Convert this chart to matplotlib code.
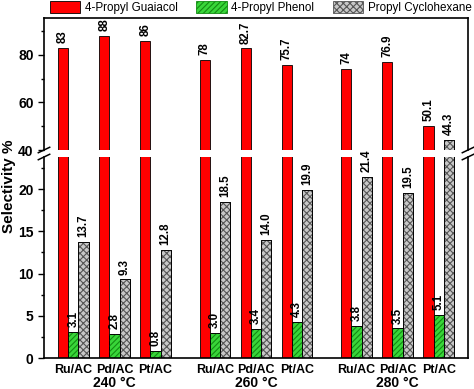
import numpy as np
import matplotlib
matplotlib.use('Agg')
import matplotlib.pyplot as plt
from matplotlib.patches import Patch

plt.rcParams['font.family'] = ['Liberation Sans', 'DejaVu Sans']
plt.rcParams['hatch.linewidth'] = 0.8

# datos
catalizadores = ['Ru/AC', 'Pd/AC', 'Pt/AC'] * 3
temperaturas = ['240 °C', '260 °C', '280 °C']
guaiacol = [83, 88, 86, 78, 82.7, 75.7, 74, 76.9, 50.1]
fenol = [3.1, 2.8, 0.8, 3.0, 3.4, 4.3, 3.8, 3.5, 5.1]
ciclohexano = [13.7, 9.3, 12.8, 18.5, 14.0, 19.9, 21.4, 19.5, 44.3]
etiq_guaiacol = ['83', '88', '86', '78', '82.7', '75.7', '74', '76.9', '50.1']
etiq_fenol = ['3.1', '2.8', '0.8', '3.0', '3.4', '4.3', '3.8', '3.5', '5.1']
etiq_ciclo = ['13.7', '9.3', '12.8', '18.5', '14.0', '19.9', '21.4', '19.5', '44.3']

# posiciones de los grupos
sep = 3.45
x = np.array([g * sep + i for g in range(3) for i in range(3)])
w = 0.25

fig = plt.figure(figsize=(4.74, 3.89), dpi=100)
izq, der = 44 / 474, 468 / 474
ax_sup = fig.add_axes([izq, 1 - 150 / 389, der - izq, (150 - 18) / 389])
ax_inf = fig.add_axes([izq, 1 - 358 / 389, der - izq, (358 - 157) / 389])

lim_inf = (0, 23.8)
lim_sup = (40, 95.5)

series = [
    (guaiacol, etiq_guaiacol, 0.0, '#ff0000', None, 'black'),
    (fenol, etiq_fenol, w, '#39d639', '//////', '#138a13'),
    (ciclohexano, etiq_ciclo, 2 * w, '#c8c8c8', 'xxxxx', '#555555'),
]

for ax in (ax_sup, ax_inf):
    for vals, etq, off, color, hatch, hc in series:
        ax.bar(x + off, vals, w, align='edge', color=color, edgecolor='black', linewidth=0.6)
        if hatch:
            ax.bar(x + off, vals, w, align='edge', color='none', edgecolor=hc,
                   hatch=hatch, linewidth=0)
            ax.bar(x + off, vals, w, align='edge', color='none', edgecolor='black', linewidth=0.6)

# etiquetas de valores
for vals, etq, off, color, hatch, hc in series:
    for xi, v, t in zip(x + off, vals, etq):
        ax = ax_sup if v > lim_inf[1] else ax_inf
        ax.annotate(t, (xi + w / 2, v), xytext=(0, 3.5), textcoords='offset points',
                    rotation=90, ha='center', va='bottom', fontsize=8.3, fontweight='bold')

xmin, xmax = -0.34, x[-1] + 3 * w + 0.34
ax_sup.set_xlim(xmin, xmax)
ax_inf.set_xlim(xmin, xmax)
ax_sup.set_ylim(*lim_sup)
ax_inf.set_ylim(*lim_inf)

ax_sup.set_yticks([40, 60, 80])
ax_sup.set_yticks([50, 70, 90], minor=True)
ax_inf.set_yticks([0, 5, 10, 15, 20])
ax_inf.set_yticks([2.5, 7.5, 12.5, 17.5, 22.5], minor=True)

ax_sup.spines['bottom'].set_visible(False)
ax_inf.spines['top'].set_visible(False)
ax_sup.set_xticks([])
ax_inf.set_xticks(x + 1.5 * w)
ax_inf.set_xticklabels(catalizadores, fontsize=9, fontweight='bold')

for ax in (ax_sup, ax_inf):
    ax.tick_params(axis='y', direction='out', labelsize=10, length=4, width=1)
    ax.tick_params(axis='y', which='minor', direction='out', length=2.5, width=1)
    ax.tick_params(axis='x', length=0, pad=4)
    for s in ax.spines.values():
        s.set_linewidth(1.2)
    for lab in ax.get_yticklabels():
        lab.set_fontweight('bold')
    ax.patch.set_alpha(0)

# marcas de corte
for xf in (izq, der):
    for yf in (1 - 150 / 389, 1 - 157 / 389):
        fig.add_artist(plt.Line2D([xf - 0.012, xf + 0.012], [yf - 0.007, yf + 0.007],
                                  color='black', lw=1.1))

# temperaturas
for g, t in enumerate(temperaturas):
    ax_inf.text(g * sep + 1 + 1.5 * w, -0.09, t, transform=ax_inf.get_xaxis_transform(),
                ha='center', va='top', fontsize=10, fontweight='bold')

fig.text(0.02, 0.52, 'Selectivity %', rotation=90, ha='center', va='center',
         fontsize=11, fontweight='bold')

manijas = [
    Patch(facecolor='#ff0000', edgecolor='black', linewidth=0.6),
    Patch(facecolor='#39d639', edgecolor='#138a13', hatch='//////', linewidth=0.6),
    Patch(facecolor='#c8c8c8', edgecolor='#555555', hatch='xxxxx', linewidth=0.6),
]
fig.legend(manijas, ['4-Propyl Guaiacol', '4-Propyl Phenol', 'Propyl Cyclohexane'],
           loc='upper center', bbox_to_anchor=(0.55, 1.025), ncol=3, frameon=False,
           fontsize=8.4, handlelength=2.6, handleheight=1.3, columnspacing=1.6,
           handletextpad=0.4)

fig.savefig('out.png', dpi=100)
